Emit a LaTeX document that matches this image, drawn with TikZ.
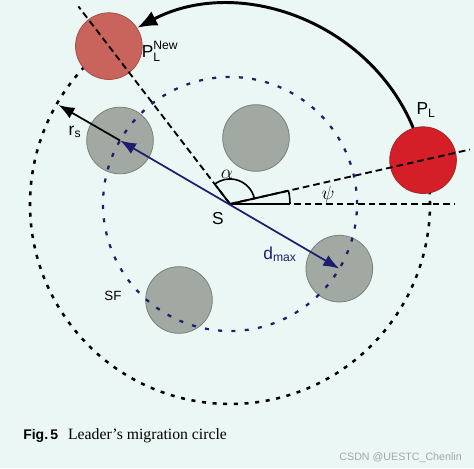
\documentclass[tikz,border=0pt]{standalone}
\usepackage{fontspec}
\setmainfont{Liberation Serif}
\newfontfamily\labfont{Liberation Sans}
\usepackage{amsmath}
\usepackage{tikz}
\usetikzlibrary{calc}
\usetikzlibrary{positioning}
\usetikzlibrary{arrows.meta}
\definecolor{bg}{RGB}{234,247,244}
\definecolor{ballgray}{RGB}{162,168,162}
\definecolor{ballgrayd}{RGB}{122,128,122}
\definecolor{plred}{RGB}{212,30,40}
\definecolor{plredd}{RGB}{160,40,40}
\definecolor{plnew}{RGB}{200,100,92}
\definecolor{plnewd}{RGB}{165,80,72}
\definecolor{navy}{RGB}{30,30,110}

\begin{document}
\begin{tikzpicture}[x=0.75pt,y=0.75pt,>={Latex[length=12pt,width=9pt]},
  ball/.style={circle,draw,line width=0.6pt,minimum size=50pt,inner sep=0pt},
  lab/.style={font=\labfont\fontsize{13}{15}\selectfont,inner sep=0pt},
  ray/.style={line width=1.4pt,dash pattern=on 5pt off 3pt}]

\fill[bg] (-230,-264) rectangle (244,204);
\useasboundingbox (-230,-264) rectangle (244,204);

\coordinate (S) at (0,0);

% migration circle, open between the two leaders
\draw[line width=1.9pt,dash pattern=on 3pt off 5pt] (127.5:200) arc[start angle=127.5,end angle=372.8,radius=200];

\node[ball,fill=plred,draw=plredd] (pl) at (12.8:198) {};
\node[ball,fill=plnew,draw=plnewd] (plnew) at (127.5:199) {};

% rays out of S
\coordinate (hend) at (0:225);
\coordinate (psiend) at (12.8:246);
\coordinate (newend) at (127.5:249);
\draw[ray] (S) -- (hend);
\draw[ray] (S) -- (psiend);
\draw[ray] (S) -- (newend);
\draw[line width=1.4pt] (S) -- (0:60);
\draw[line width=1.4pt] (S) -- (12.8:60);
\draw[line width=1.4pt] (S) -- (127.5:22);

\draw[line width=1.2pt] (12.8:25) arc[start angle=12.8,end angle=127.5,radius=25];
\draw[line width=1.2pt] (0:60) arc[start angle=0,end angle=12.8,radius=60];

\node[ball,fill=ballgray,draw=ballgrayd] (gtop) at (26,66) {};
\node[ball,fill=ballgray,draw=ballgrayd] (gleft) at (150:127) {};
\node[ball,fill=ballgray,draw=ballgrayd] (gright) at (-30.6:127) {};
\node[ball,fill=ballgray,draw=ballgrayd] (gbot) at (-51,-96) {};

% sensing circle
\draw[navy,line width=1.7pt,dash pattern=on 3pt off 7pt] (S) circle[radius=127];

\coordinate (rsend) at (150:198);
\draw[navy,line width=1.3pt,<->] (gleft.center) -- (gright.center);
\draw[line width=1.3pt,->] (gleft.center) -- (rsend);
\draw[line width=2.2pt,-{Latex[length=15pt,width=12pt]}] (pl.107) to[out=112.5,in=27.5] (plnew.33);

\node[lab] (slab) at (-12,-15) {S};
\node[lab] (pllab) at (196,94) {P\textsubscript{L}};
\node[lab] (plnewlab) at (-70,153) {$\text{P}_{\text{L}}^{\text{New}}$};
\node[lab,navy] (dlab) at (50,-50) {d\textsubscript{max}};
\node[lab] (rslab) at (-155,72) {r\textsubscript{s}};
\node[lab,font=\labfont\fontsize{10}{12}\selectfont] (sflab) at (-117,-92) {SF};
\node[inner sep=0pt,font=\fontsize{14}{14}\selectfont] (alab) at (-3,30) {$\alpha$};
\node[inner sep=0pt,font=\fontsize{14}{14}\selectfont] (psilab) at (98,9) {$\psi$};

% caption
\node[anchor=base west,inner sep=0pt,font=\labfont\bfseries\fontsize{10.5}{12}\selectfont] (fig) at (-207,-235) {Fig.\,5};
\node[base right=7pt of fig,inner sep=0pt,font=\fontsize{11.8}{13}\selectfont] (cap) {Leader’s migration circle};
\node[anchor=base east,inner sep=0pt,text=gray!70,font=\labfont\fontsize{8}{9}\selectfont] (mark) at (232,-256) {CSDN @UESTC\_Chenlin};
\end{tikzpicture}
\end{document}
